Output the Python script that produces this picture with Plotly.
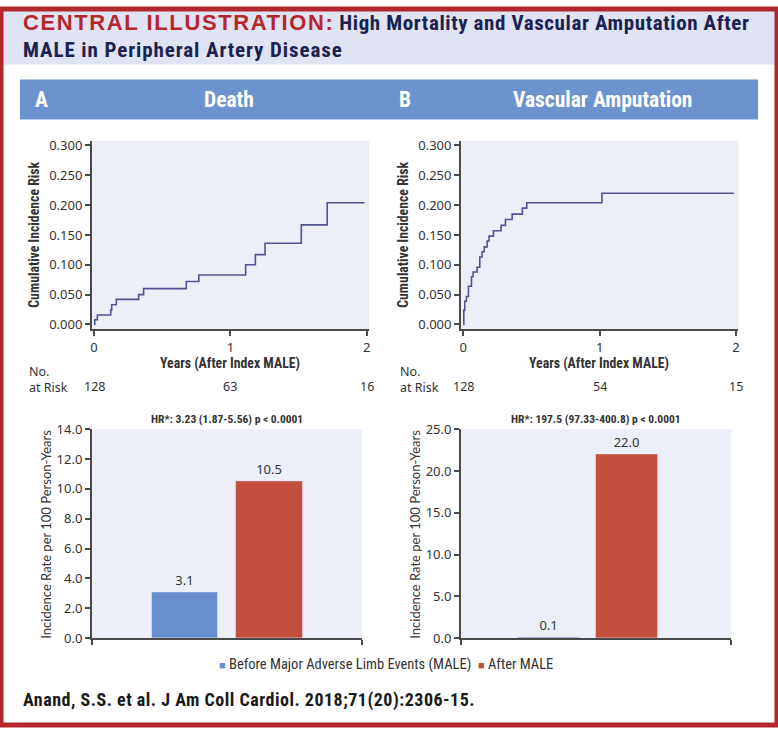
import plotly.graph_objects as go

# ---------------- data ----------------
death_years = [0, 0.005, 0.024, 0.122, 0.129, 0.163, 0.327, 0.363, 0.676, 0.768,
               1.112, 1.183, 1.254, 1.520, 1.710, 1.983]
death_risk = [0, 0.008, 0.016, 0.024, 0.033, 0.042, 0.050, 0.060, 0.072, 0.083,
              0.100, 0.117, 0.136, 0.167, 0.204, 0.204]

amp_years = [0, 0.005, 0.012, 0.024, 0.039, 0.061, 0.073, 0.102, 0.122, 0.139, 0.154,
             0.176, 0.190, 0.222, 0.278, 0.310, 0.359, 0.434, 0.466, 1.017, 1.983]
amp_risk = [0, 0.024, 0.039, 0.047, 0.064, 0.080, 0.088, 0.096, 0.113, 0.122, 0.130,
            0.140, 0.148, 0.157, 0.166, 0.176, 0.185, 0.195, 0.204, 0.220, 0.220]

risk_years = [0, 1, 2]
death_at_risk = [128, 63, 16]
amp_at_risk = [128, 54, 15]

km_yticks = [0, 0.05, 0.10, 0.15, 0.20, 0.25, 0.30]

categories = ["Before Major Adverse Limb Events (MALE)", "After MALE"]
death_rates = [3.1, 10.5]
amp_rates = [0.1, 22.0]
death_hr = "HR*: 3.23 (1.87-5.56) p < 0.0001"
amp_hr = "HR*: 197.5 (97.33-400.8) p < 0.0001"
death_rate_ticks = [0, 2, 4, 6, 8, 10, 12, 14]
amp_rate_ticks = [0, 5, 10, 15, 20, 25]

# ---------------- style ----------------
W, H = 778, 734
COND = "Liberation Sans Narrow, Arial Narrow, Roboto Condensed, Roboto, sans-serif"
SANS = "Noto Sans, Open Sans, sans-serif"
LAT = "Lato, Noto Sans, sans-serif"
TXT = "#333333"
AX = "#4a4a4a"
BG = "#eceef8"
LINE = "#4f5390"
BLUE = "#6a8fcf"
RED = "#c44f3f"
NAVY = "#1b2150"
CRED = "#b5262c"


def px(x):
    return x / W


def py(y):
    return 1 - y / H


fig = go.Figure()

# KM curves
fig.add_trace(go.Scatter(x=death_years, y=death_risk, mode="lines", line_shape="hv",
                         line=dict(color=LINE, width=1.6), xaxis="x", yaxis="y",
                         showlegend=False, hoverinfo="skip"))
fig.add_trace(go.Scatter(x=amp_years, y=amp_risk, mode="lines", line_shape="hv",
                         line=dict(color=LINE, width=1.6), xaxis="x2", yaxis="y2",
                         showlegend=False, hoverinfo="skip"))

# bars
colors = [BLUE, RED]
for i, cat in enumerate(categories):
    fig.add_trace(go.Bar(x=[i], y=[death_rates[i]], name=cat, marker_color=colors[i],
                         width=0.787, xaxis="x3", yaxis="y3", text=[f"{death_rates[i]:.1f}"],
                         textposition="outside", cliponaxis=False,
                         textfont=dict(family=SANS, size=13, color=TXT),
                         showlegend=False))
    fig.add_trace(go.Bar(x=[i], y=[amp_rates[i]], name=cat, marker_color=colors[i],
                         width=0.786, xaxis="x4", yaxis="y4", text=[f"{amp_rates[i]:.1f}"],
                         textposition="outside", cliponaxis=False,
                         textfont=dict(family=SANS, size=13, color=TXT),
                         showlegend=False))

tickfont = dict(family=SANS, size=13, color=TXT)
common_axis = dict(showgrid=False, zeroline=False, showline=True, linecolor=AX,
                   linewidth=1.5, ticks="outside", ticklen=5, tickcolor=AX,
                   tickwidth=1.5, tickfont=tickfont, fixedrange=True)

km_y_dom = [py(328.3), py(135)]
bar_y_dom = [py(645), py(430.7)]

fig.update_layout(
    width=W, height=H, margin=dict(l=0, r=0, t=0, b=0),
    paper_bgcolor="white", plot_bgcolor=BG, bargap=0, showlegend=False,
    xaxis=dict(common_axis, domain=[px(91), px(369)], anchor="y", range=[-0.017, 2.017],
               tickvals=risk_years),
    yaxis=dict(common_axis, domain=km_y_dom, anchor="x", range=[-0.008, 0.308],
               tickvals=km_yticks, tickformat=".3f"),
    xaxis2=dict(common_axis, domain=[px(461), px(739.3)], anchor="y2", range=[-0.017, 2.017],
                tickvals=risk_years),
    yaxis2=dict(common_axis, domain=km_y_dom, anchor="x2", range=[-0.008, 0.308],
                tickvals=km_yticks, tickformat=".3f"),
    xaxis3=dict(common_axis, domain=[px(91), px(362)], anchor="y3", range=[-1.1, 2.1],
                tickvals=[-1.1, 2.1], ticktext=["", ""]),
    yaxis3=dict(common_axis, domain=bar_y_dom, anchor="x3", range=[0, 14],
                tickvals=death_rate_ticks, tickformat=".1f"),
    xaxis4=dict(common_axis, domain=[px(461), px(732.3)], anchor="y4", range=[-1.113, 2.326],
                tickvals=[-1.113, 2.326], ticktext=["", ""]),
    yaxis4=dict(common_axis, domain=bar_y_dom, anchor="x4", range=[0, 25],
                tickvals=amp_rate_ticks, tickformat=".1f"),
)

shapes = [
    dict(type="rect", xref="paper", yref="paper", x0=0, x1=1, y0=py(57), y1=1,
         fillcolor="#dfe3f3", line_width=0, layer="below"),
    dict(type="rect", xref="paper", yref="paper", x0=px(19), x1=px(759), y0=py(113.3), y1=py(72.3),
         fillcolor="#6c93cf", line_width=0, layer="below"),
    dict(type="rect", xref="paper", yref="paper", x0=0, x1=1, y0=0, y1=1,
         fillcolor="rgba(0,0,0,0)", line=dict(color="#b3262c", width=5)),
]
fig.update_layout(shapes=shapes)

ann = []


def add(text, x, y, xref="paper", yref="paper", xanchor="center", yanchor="middle",
        font=None, angle=0, align="center"):
    ann.append(dict(text=text, x=x, y=y, xref=xref, yref=yref, xanchor=xanchor,
                    yanchor=yanchor, showarrow=False, font=font, textangle=angle,
                    align=align))


# title (two lines in one text)
add(f"<b><span style='color:{CRED};font-family:Liberation Sans;font-size:22px;"
    f"letter-spacing:1.6px'>CENTRAL ILLUSTRATION:</span> "
    f"<span style='letter-spacing:0.6px'>High Mortality and Vascular Amputation After</span>"
    f"<br><span style='letter-spacing:0.9px'>MALE in Peripheral Artery Disease</span></b>",
    px(20), py(27.5), xanchor="left", align="left",
    font=dict(family=COND, size=21, color=NAVY))

# header band
hfont = dict(family=COND, size=21.5, color="white")
add("<b>A</b>", px(32), py(93), xanchor="left", font=hfont)
add("<b>Death</b>", px(229), py(93), font=hfont)
add("<b>B</b>", px(397), py(93), xanchor="left", font=hfont)
add("<b>Vascular Amputation</b>", px(603), py(93), font=hfont)

# KM axis titles
bfont = dict(family=COND, size=13.8, color=TXT)
for ytx, xt in [(33, 230), (403, 600)]:
    add("<b>Cumulative Incidence Risk</b>", px(ytx), py(231.5), font=bfont, angle=-90)
    add("<b>Years (After Index MALE)</b>", px(xt), py(363.5), font=bfont)

# number at risk
rfont = dict(family=SANS, size=12.5, color=TXT)
for xa, nox, counts in [("x", 26, death_at_risk), ("x2", 398, amp_at_risk)]:
    add("No.<br>at Risk", px(nox), py(380), xanchor="left", font=rfont, align="left")
    for t, n in zip(risk_years, counts):
        add(str(n), t, py(387.5), xref=xa, font=rfont)

# bar titles
hrfont = dict(family=COND, size=11.5, color=TXT)
add(f"<b>{death_hr}</b>", 0.5, py(420), xref="x3 domain", font=hrfont)
add(f"<b>{amp_hr}</b>", 0.5, py(420), xref="x4 domain", font=hrfont)
yfont = dict(family=LAT, size=13, color=TXT)
add("Incidence Rate per 100 Person-Years", px(45), py(538), font=yfont, angle=-90)
add("Incidence Rate per 100 Person-Years", px(415), py(538), font=yfont, angle=-90)

# legend (built from categories/colours)
legend_text = "&nbsp;&nbsp;".join(
    f"<span style='color:{c};font-size:11px'>■</span> {cat}" for cat, c in zip(categories, colors))
add(legend_text, px(386), py(672), font=dict(family=COND, size=14.5, color=TXT))

# citation
add("<b><span style='letter-spacing:0.5px'>Anand, S.S. et al. J Am Coll Cardiol. "
    "2018;71(20):2306-15.</span></b>", px(20), py(708),
    xanchor="left", font=dict(family=COND, size=18, color="#1a1a1a"))

fig.update_layout(annotations=ann)

fig.write_html("out.html", config={"displayModeBar": False},
               post_script="document.body.style.margin='0';document.body.style.overflow='hidden';")
